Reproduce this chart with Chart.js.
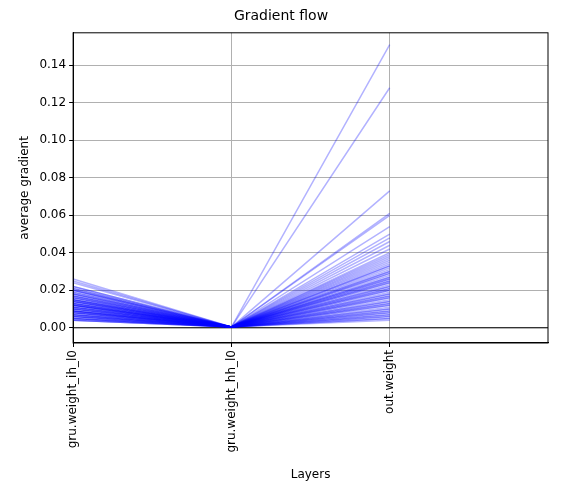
<!DOCTYPE html>
<html>
<head>
<meta charset="utf-8">
<script src="https://cdn.jsdelivr.net/npm/chart.js@4"></script>
<style>
body { margin: 0; background: #fff; }
#wrap { width: 576px; height: 500px; }
</style>
</head>
<body>
<div id="wrap"><canvas id="myChart"></canvas></div>
<script>
var layers = ['gru.weight_ih_l0', 'gru.weight_hh_l0', 'out.weight'];
// 各線の平均勾配（層ごと）
var ih_vals = [0.026, 0.025, 0.024, 0.022, 0.021, 0.020, 0.019, 0.018, 0.018, 0.017,
	0.016, 0.016, 0.015, 0.015, 0.014, 0.014, 0.013, 0.013, 0.012, 0.012,
	0.011, 0.011, 0.010, 0.010, 0.009, 0.009, 0.008, 0.008, 0.007, 0.007,
	0.006, 0.006, 0.005, 0.005, 0.004, 0.004, 0.015, 0.012, 0.009, 0.020,
	0.022, 0.021, 0.019, 0.017, 0.016, 0.014, 0.013, 0.012, 0.011, 0.010,
	0.009, 0.008, 0.007, 0.006, 0.005, 0.004, 0.018, 0.015, 0.013, 0.011,
	0.010, 0.008, 0.006, 0.005, 0.020, 0.017, 0.014, 0.012, 0.009, 0.007];
var hh_vals = [];
for (var k = 0; k < ih_vals.length; k++) hh_vals.push(0.0004);
var out_vals = [0.151, 0.128, 0.073, 0.061, 0.060, 0.054, 0.050, 0.048, 0.046, 0.044,
	0.042, 0.040, 0.038, 0.036, 0.035, 0.033, 0.032, 0.030, 0.029, 0.028,
	0.026, 0.025, 0.024, 0.022, 0.021, 0.020, 0.018, 0.017, 0.016, 0.014,
	0.013, 0.012, 0.010, 0.009, 0.008, 0.007, 0.006, 0.005, 0.004, 0.027,
	0.034, 0.031, 0.029, 0.027, 0.025, 0.023, 0.021, 0.019, 0.017, 0.015,
	0.013, 0.011, 0.009, 0.008, 0.006, 0.005, 0.030, 0.026, 0.022, 0.018,
	0.014, 0.012, 0.010, 0.007, 0.039, 0.037, 0.033, 0.024, 0.020, 0.016];

var datasets = [];
for (var i = 0; i < ih_vals.length; i++) {
	datasets.push({
		data: [{x: 0, y: ih_vals[i]}, {x: 1, y: hh_vals[i]}, {x: 2, y: out_vals[i]}],
		borderColor: 'rgba(0, 0, 255, 0.3)',
		borderWidth: 1.5,
		pointRadius: 0,
		fill: false
	});
}
// y=0 の水平線
datasets.push({
	data: [{x: 0, y: 0}, {x: 3, y: 0}],
	borderColor: '#000',
	borderWidth: 1,
	pointRadius: 0
});

// 枠線（上・右）
var frame = {
	id: 'frame',
	afterDraw: function(chart) {
		var a = chart.chartArea, c = chart.ctx;
		c.save();
		c.strokeStyle = '#000';
		c.lineWidth = 1;
		c.strokeRect(a.left, a.top, a.right - a.left, a.bottom - a.top);
		c.restore();
	}
};

Chart.defaults.font.family = 'DejaVu Sans';
Chart.defaults.color = '#000';

new Chart(document.getElementById('myChart'), {
	type: 'line',
	data: { datasets: datasets },
	plugins: [frame],
	options: {
		animation: false,
		responsive: true,
		maintainAspectRatio: false,
		layout: { padding: { left: 14, right: 28, top: 4, bottom: 14 } },
		plugins: {
			legend: { display: false },
			tooltip: { enabled: false },
			title: { display: true, text: 'Gradient flow', font: { size: 14, weight: 'normal' }, padding: { top: 4, bottom: 8 } }
		},
		scales: {
			x: {
				type: 'linear', min: 0, max: 3,
				afterBuildTicks: function(axis) { axis.ticks = [{value: 0}, {value: 1}, {value: 2}]; },
				ticks: {
					minRotation: 90, maxRotation: 90, autoSkip: false, font: { size: 12 },
					callback: function(v) { return layers[v]; }
				},
				grid: { color: '#b0b0b0', tickColor: '#000', tickLength: 4 },
				border: { color: '#000' },
				title: { display: true, text: 'Layers', font: { size: 12 }, padding: { top: 12 } }
			},
			y: {
				min: -0.0081, max: 0.1573,
				afterBuildTicks: function(axis) {
					axis.ticks = [0, 0.02, 0.04, 0.06, 0.08, 0.10, 0.12, 0.14].map(function(v) { return {value: v}; });
				},
				ticks: { font: { size: 12 }, callback: function(v) { return v.toFixed(2); } },
				grid: { color: '#b0b0b0', tickColor: '#000', tickLength: 4 },
				border: { color: '#000' },
				title: { display: true, text: 'average gradient', font: { size: 12 } }
			}
		}
	}
});
</script>
</body>
</html>
